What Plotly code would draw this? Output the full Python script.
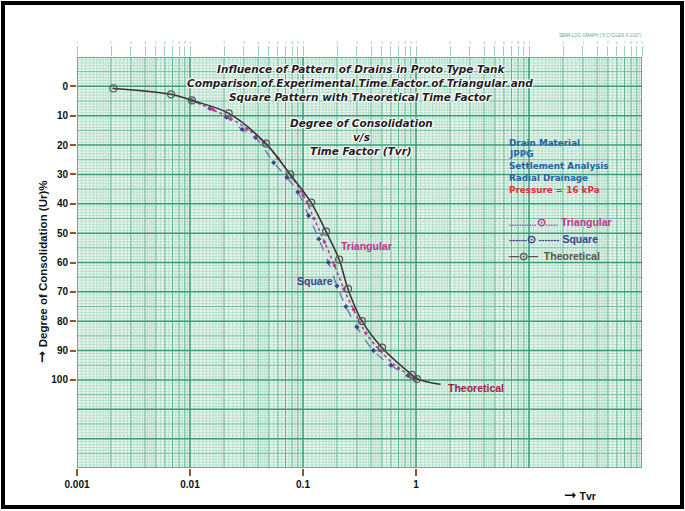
import plotly.graph_objects as go
import numpy as np

# ---------------- data ----------------
theo_t = [0.0021, 0.0068, 0.0104, 0.022, 0.047, 0.077, 0.118, 0.16, 0.209, 0.25, 0.333, 0.5, 0.92, 1.02]
theo_u = [0.7, 2.7, 4.8, 9.2, 19.5, 30, 39.6, 49.5, 59, 69, 80, 89, 98.3, 99.7]
theo_tail_t = [1.02, 1.3, 1.65]
theo_tail_u = [99.7, 100.8, 101.5]

sq_t = [0.0104, 0.015, 0.021, 0.029, 0.038, 0.055, 0.072, 0.09, 0.112, 0.138, 0.168, 0.2, 0.24, 0.3, 0.42, 0.6, 0.85, 1.0]
sq_u = [4.8, 7.5, 10.5, 14.7, 17.4, 26, 31, 36, 44, 52, 60, 68, 75, 82, 90, 95, 98.5, 99.5]

tri_t = [0.0104, 0.016, 0.023, 0.032, 0.045, 0.06, 0.08, 0.1, 0.125, 0.155, 0.19, 0.23, 0.28, 0.36, 0.48, 0.7, 1.0]
tri_u = [4.8, 8, 11, 14.5, 19, 24.5, 31, 37, 45, 53, 61, 69, 76, 84, 90, 96, 99.5]

x_tick_vals = [0.001, 0.01, 0.1, 1]
x_tick_text = ["0.001", "0.01", "0.1", "1"]
y_tick_vals = [0, 10, 20, 30, 40, 50, 60, 70, 80, 90, 100]
y_tick_text = [str(v) for v in y_tick_vals]

# ---------------- geometry ----------------
W, H = 685, 511
L, R, T, B = 77, 43, 57, 43
PW, PH = W - L - R, H - T - B
XMIN, XMAX = -3, 2
YMIN, YMAX = -10, 130


def px(xp):
    return (xp - L) / PW


def py(yp):
    return (H - B - yp) / PH


decades = [10.0 ** k for k in range(XMIN, XMAX)]
heavy_x = decades + [10.0 ** XMAX]
med_x = [d * m for d in decades for m in range(2, 10)]
fine_x = []
for d in decades:
    fine_x += [d * v for v in np.arange(1.1, 2.0, 0.1)]
    fine_x += [d * v for v in np.arange(2.2, 5.0, 0.2) if abs(v - round(v)) > 1e-6]
    fine_x += [d * v for v in np.arange(5.5, 10.0, 0.5) if abs(v - round(v)) > 1e-6]

heavy_y = list(range(YMIN, YMAX + 1, 10))
med_y = list(range(YMIN + 5, YMAX, 10))
fine_y = [v for v in range(YMIN, YMAX + 1) if v % 5 != 0]


def vl(vals):
    xs, ys = [], []
    for v in vals:
        xs += [v, v, None]
        ys += [YMIN, YMAX, None]
    return xs, ys


def hl(vals):
    xs, ys = [], []
    for v in vals:
        xs += [10.0 ** XMIN, 10.0 ** XMAX, None]
        ys += [v, v, None]
    return xs, ys


fig = go.Figure()

grid_styles = [
    (vl(fine_x), "#a6d8c1", 0.7),
    (hl(fine_y), "#a6d8c1", 0.7),
    (vl(med_x), "#5fb592", 1.0),
    (hl(med_y), "#6dbb9a", 1.0),
    (vl(heavy_x), "#379a74", 1.5),
    (hl(heavy_y), "#379a74", 1.5),
]
for (xs, ys), col, w in grid_styles:
    fig.add_trace(go.Scatter(x=xs, y=ys, mode="lines", line=dict(color=col, width=w),
                             hoverinfo="skip", showlegend=False))

# square
fig.add_trace(go.Scatter(x=sq_t, y=sq_u, mode="lines+markers", line=dict(color="#6a74b0", width=1.3, dash="dash", shape="spline"),
                         marker=dict(symbol="diamond", size=4, color="#3c4590"), showlegend=False))
# triangular
fig.add_trace(go.Scatter(x=tri_t, y=tri_u, mode="lines+markers", line=dict(color="#c2378f", width=1.6, dash="dot", shape="spline"),
                         marker=dict(symbol="circle", size=3.5, color="#c2378f"), showlegend=False))
# theoretical
fig.add_trace(go.Scatter(x=theo_tail_t, y=theo_tail_u, mode="lines", line=dict(color="#333333", width=1.5, shape="spline"),
                         showlegend=False, hoverinfo="skip"))
fig.add_trace(go.Scatter(x=theo_t, y=theo_u, mode="lines+markers", line=dict(color="#333333", width=1.5, shape="spline"),
                         marker=dict(symbol="circle-open-dot", size=7, color="#555555", line=dict(width=1.2)),
                         showlegend=False))

# invisible trace for the top tick axis
fig.add_trace(go.Scatter(x=[1], y=[50], xaxis="x2", mode="markers", marker=dict(opacity=0),
                         hoverinfo="skip", showlegend=False))

top_vals = [d * m for d in decades for m in range(1, 10)] + [10.0 ** XMAX]
top_text = [str(m) for d in decades for m in range(1, 10)] + ["1"]

fig.update_layout(
    width=W, height=H,
    margin=dict(l=L, r=R, t=T, b=B),
    paper_bgcolor="white",
    plot_bgcolor="#e9f6ef",
    xaxis=dict(type="log", range=[XMIN, XMAX], showgrid=False, zeroline=False,
               showline=False, tickvals=x_tick_vals, ticktext=x_tick_text,
               ticks="outside", ticklen=7, tickwidth=2, tickcolor="#8a5a2a",
               tickfont=dict(family="Liberation Sans", size=10, color="#111", weight="bold")),
    xaxis2=dict(type="log", range=[XMIN, XMAX], overlaying="x", side="top", anchor="y",
                showgrid=False, zeroline=False, showline=False, tickvals=top_vals, ticktext=top_text,
                ticks="outside", ticklen=10, tickwidth=1, tickcolor="#9fd3bb",
                tickfont=dict(family="Liberation Sans", size=4, color="#8cbfa8")),
    yaxis=dict(range=[YMAX, YMIN], showgrid=False, zeroline=False, showline=False,
               tickvals=y_tick_vals, ticktext=y_tick_text,
               ticks="outside", ticklen=6, tickwidth=2, tickcolor="#8a5a2a",
               tickfont=dict(family="Liberation Sans", size=10, color="#111", weight="bold")),
)

halo = "1px 1px 1px #fff, -1px -1px 1px #fff, 1px -1px 1px #fff, -1px 1px 1px #fff"
title_font = dict(family="DejaVu Sans", size=10.5, color="#1e1e1e", weight="bold", style="italic", shadow=halo)

anns = []


def add(text, x, y, font, xanchor="center", **kw):
    anns.append(dict(text=text, x=px(x), y=py(y), xref="paper", yref="paper", showarrow=False,
                     xanchor=xanchor, yanchor="middle", font=font, **kw))


add("Influence of Pattern of Drains in Proto Type Tank", 361, 69, title_font)
add("Comparison of Experimental Time Factor of Triangular and", 360, 83, title_font)
add("Square Pattern with Theoretical Time Factor", 360, 97, title_font)
add("Degree of Consolidation", 361, 123, title_font)
add("v/s", 361, 137, title_font)
add("Time Factor (Tvr)", 361, 151, title_font)

info_font = dict(family="DejaVu Sans", size=8.8, color="#1f63a3", weight="bold")
add("Drain Material", 507, 143, info_font, xanchor="left")
add("JPPG", 507, 154, info_font, xanchor="left")
add("Settlement Analysis", 507, 166, info_font, xanchor="left")
add("Radial Drainage", 507, 178, info_font, xanchor="left")
add("Pressure = 16 kPa", 507, 190, dict(info_font, color="#e0303c"), xanchor="left")

leg_font = dict(family="Liberation Sans", size=10.5, weight="bold")
add('<span style="font-size:9px">...........</span><span style="font-size:11px">⊙</span><span style="font-size:9px">.....</span> Triangular', 507, 222,
    dict(leg_font, color="#c0358c"), xanchor="left")
add('<span style="font-size:9px">------</span><span style="font-size:11px">⊙</span><span style="font-size:9px"> -------</span> Square', 507, 239,
    dict(leg_font, color="#3c3f8a"), xanchor="left")
add('<span style="font-size:10px">—</span><span style="font-size:11px">⊙</span><span style="font-size:10px">—</span>  Theoretical', 507, 256,
    dict(leg_font, color="#555555"), xanchor="left")

add("Triangular", 366, 246, dict(family="Liberation Sans", size=10.5, color="#c0358c", weight="bold"))
add("Square", 315, 281, dict(family="Liberation Sans", size=10.5, color="#3c3f8a", weight="bold"))
add("Theoretical", 476, 388, dict(family="Liberation Sans", size=10.5, color="#9a1f47", weight="bold"))

add('<span style="font-family:DejaVu Sans;font-size:15px">➞</span> Degree of Consolidation (Ur)%', 42, 272,
    dict(family="Liberation Sans", size=11.5, color="#111", weight="bold"), textangle=-90)
add('<span style="font-family:DejaVu Sans;font-size:15px">➞</span> Tvr', 580, 495,
    dict(family="Liberation Sans", size=10.5, color="#111", weight="bold"))
add('SEMI-LOG GRAPH ( 5 CYCLES X 1/10")', 600, 35, dict(family="Liberation Sans", size=4.5, color="#5aaa88"))

fig.update_layout(annotations=anns)

fig.add_shape(type="rect", xref="paper", yref="paper",
              x0=px(3), x1=px(682), y0=py(507), y1=py(3),
              line=dict(color="black", width=4), fillcolor="rgba(0,0,0,0)")

fig.write_html("out.html")
